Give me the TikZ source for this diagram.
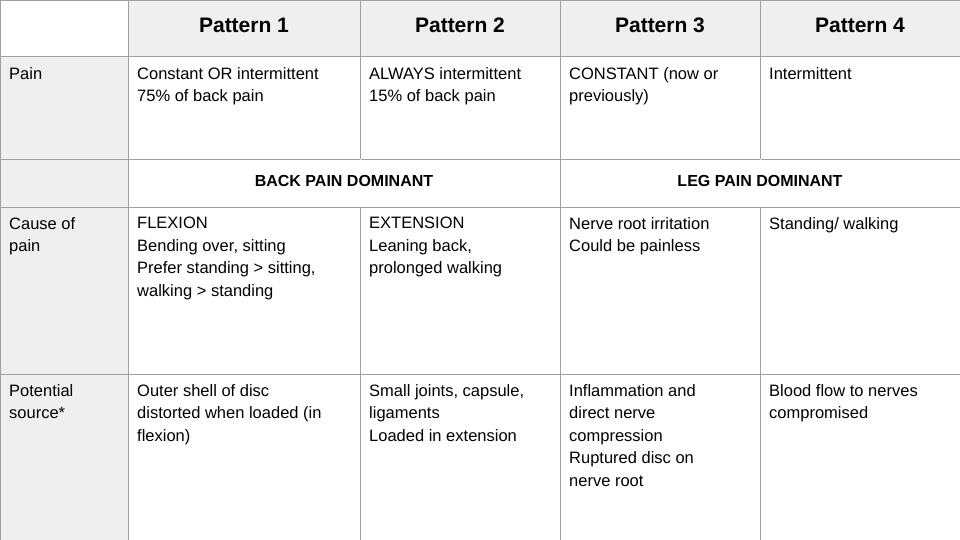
\documentclass[tikz,border=0pt]{standalone}
\usepackage{fontspec}
\setmainfont{Liberation Sans}
\definecolor{hd}{HTML}{EFEFEF}
\definecolor{ln}{HTML}{A0A0A0}
\begin{document}
\begin{tikzpicture}[x=1pt,y=-1pt,
 cell/.style={anchor=north west,align=left,inner sep=0pt,font=\fontsize{16.5}{22.5}\selectfont},
 head/.style={font=\fontsize{21}{25}\selectfont\bfseries},
 dom/.style={font=\fontsize{16}{20}\selectfont\bfseries}]
\useasboundingbox (0,0) rectangle (960,540);
\fill[hd] (128,0) rectangle (960,56);
\fill[hd] (0,56) rectangle (128,540);
\foreach \x in {0,128,360,560,760,960} \draw[ln] (\x,0) -- (\x,540);
\foreach \y in {0,56,159,207,374,540} \draw[ln] (0,\y) -- (960,\y);
\fill[white] (360.5,159.5) rectangle (359.5,206.5);
\fill[white] (760.5,159.5) rectangle (759.5,206.5);
\node[head] (h1) at (244,25) {Pattern 1};
\node[head] (h2) at (460,25) {Pattern 2};
\node[head] (h3) at (660,25) {Pattern 3};
\node[head] (h4) at (860,25) {Pattern 4};
\node[cell] (r1) at (9,67) {Pain};
\node[cell] (a1) at (137,67) {Constant OR intermittent\\75\% of back pain};
\node[cell] (a2) at (369,67) {ALWAYS intermittent\\15\% of back pain};
\node[cell] (a3) at (569,67) {CONSTANT (now or\\previously)};
\node[cell] (a4) at (769,67) {Intermittent};
\node[dom] (d1) at (344,181) {BACK PAIN DOMINANT};
\node[dom] (d2) at (760,181) {LEG PAIN DOMINANT};
\node[cell] (r2) at (9,217) {Cause of\\pain};
\node[cell] (b1) at (137,217) {FLEXION\\Bending over, sitting\\Prefer standing > sitting,\\walking > standing};
\node[cell] (b2) at (369,217) {EXTENSION\\Leaning back,\\prolonged walking};
\node[cell] (b3) at (569,217) {Nerve root irritation\\Could be painless};
\node[cell] (b4) at (769,217) {Standing/ walking};
\node[cell] (r3) at (9,384) {Potential\\source*};
\node[cell] (c1) at (137,384) {Outer shell of disc\\distorted when loaded (in\\flexion)};
\node[cell] (c2) at (369,384) {Small joints, capsule,\\ligaments\\Loaded in extension};
\node[cell] (c3) at (569,384) {Inflammation and\\direct nerve\\compression\\Ruptured disc on\\nerve root};
\node[cell] (c4) at (769,384) {Blood flow to nerves\\compromised};
\end{tikzpicture}
\end{document}
